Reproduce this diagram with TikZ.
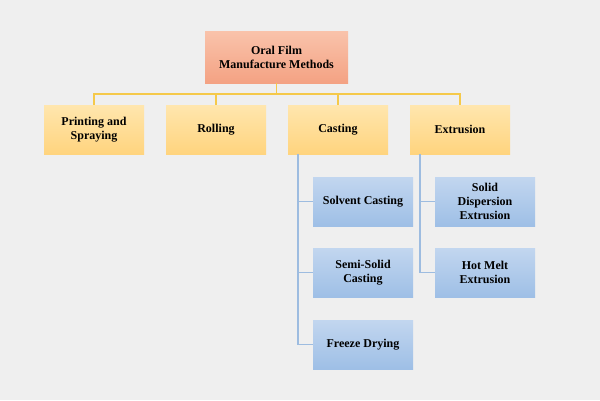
\documentclass[tikz,border=0pt]{standalone}
\usepackage{fontspec}
\setmainfont{Liberation Serif}
\begin{document}
\begin{tikzpicture}[x=1pt,y=-1pt,
  box/.style={draw=none,minimum width=100pt,minimum height=49pt,align=center,font=\bfseries\fontsize{12}{14}\selectfont,inner sep=1pt},
  root/.style={box,minimum width=143pt,minimum height=52pt,top color=rootT,bottom color=rootB},
  lvl/.style={box,top color=yelT,bottom color=yelB},
  sub/.style={box,top color=bluT,bottom color=bluB},
  yl/.style={draw=yelL,line width=1.2pt},
  bl/.style={draw=bluL,line width=1.2pt}]
\definecolor{bg}{HTML}{EFEFEF}
\definecolor{rootT}{HTML}{F9C3AB}\definecolor{rootB}{HTML}{F4A283}
\definecolor{yelT}{HTML}{FFE6AE}\definecolor{yelB}{HTML}{FFD47E}
\definecolor{bluT}{HTML}{C2D6EF}\definecolor{bluB}{HTML}{9EBFE6}
\definecolor{yelL}{HTML}{F5C94A}\definecolor{bluL}{HTML}{9DBCE0}
\fill[bg] (0,0) rectangle (600,400);
\useasboundingbox (0,0) rectangle (600,400);
\node[root] (r) at (276.5,57) {Oral Film\\Manufacture Methods};
\node[lvl] (p) at (94,129.5) {Printing and\\Spraying};
\node[lvl] (ro) at (216,129.5) {Rolling};
\node[lvl] (c) at (338,129.5) {Casting};
\node[lvl] (e) at (460,129.5) {Extrusion};
\node[sub] (s1) at (363,201.5) {Solvent Casting};
\node[sub] (s2) at (363,272.5) {Semi-Solid\\Casting};
\node[sub] (s3) at (363,344.5) {Freeze Drying};
\node[sub] (e1) at (485,201.5) {Solid\\Dispersion\\Extrusion};
\node[sub] (e2) at (485,272.5) {Hot Melt\\Extrusion};
\coordinate (h) at (276.5,94);
\draw[yl] (r.south) -- (h);
\foreach \n in {p,ro,c,e} \draw[yl] (\n.north) |- (h);
\coordinate (cv) at (298,154);
\coordinate (ev) at (420,154);
\draw[bl] (cv) |- (s3.west);
\draw[bl] (cv |- s1.west) -- (s1.west);
\draw[bl] (cv |- s2.west) -- (s2.west);
\draw[bl] (ev) |- (e2.west);
\draw[bl] (ev |- e1.west) -- (e1.west);
\end{tikzpicture}
\end{document}
